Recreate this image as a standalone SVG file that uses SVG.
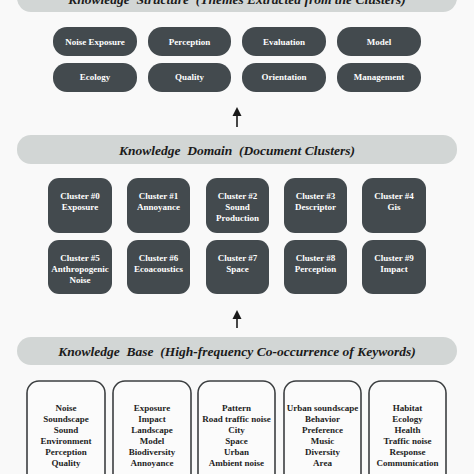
<svg xmlns="http://www.w3.org/2000/svg" width="474" height="474" viewBox="0 0 474 474">
<defs>
<style>
.banner{fill:#d2d6d5}
.btxt{font-family:"Liberation Serif",serif;font-weight:bold;font-style:italic;font-size:13.5px;fill:#1b1b1b;text-anchor:middle;white-space:pre}
.pill{fill:#434a4e}
.ptxt{font-family:"Liberation Serif",serif;font-weight:bold;font-size:9px;fill:#ffffff;text-anchor:middle}
.kbox{fill:#fbfbfb;stroke:#3c3f41;stroke-width:1.6}
.ktxt{font-family:"Liberation Serif",serif;font-weight:bold;font-size:9px;fill:#1e1e1e;text-anchor:middle}
.arr{stroke:#1a1a1a;stroke-width:1.6;fill:none}
.head{fill:#1a1a1a}
</style>
</defs>
<rect width="474" height="474" fill="#f9f9f9"/>

<g id="banner-structure">
<rect class="banner" x="17" y="-18" width="440" height="30" rx="14"/>
<text class="btxt" x="237" y="4" xml:space="preserve">Knowledge  Structure  (Themes Extracted from the Clusters)</text>
</g>

<g id="themes">
<g id="t-noise-exposure"><rect class="pill" x="53" y="27" width="84" height="29" rx="14"/><text class="ptxt" x="95" y="45">Noise Exposure</text></g>
<g id="t-perception"><rect class="pill" x="148" y="27" width="83" height="29" rx="14"/><text class="ptxt" x="189.5" y="45">Perception</text></g>
<g id="t-evaluation"><rect class="pill" x="242" y="27" width="84" height="29" rx="14"/><text class="ptxt" x="284" y="45">Evaluation</text></g>
<g id="t-model"><rect class="pill" x="337" y="27" width="84" height="29" rx="14"/><text class="ptxt" x="379" y="45">Model</text></g>
<g id="t-ecology"><rect class="pill" x="53" y="63" width="84" height="29" rx="14"/><text class="ptxt" x="95" y="80">Ecology</text></g>
<g id="t-quality"><rect class="pill" x="148" y="63" width="83" height="29" rx="14"/><text class="ptxt" x="189.5" y="80">Quality</text></g>
<g id="t-orientation"><rect class="pill" x="242" y="63" width="84" height="29" rx="14"/><text class="ptxt" x="284" y="80">Orientation</text></g>
<g id="t-management"><rect class="pill" x="337" y="63" width="84" height="29" rx="14"/><text class="ptxt" x="379" y="80">Management</text></g>
</g>

<g id="connectors">
<line class="arr" x1="237" y1="127" x2="237" y2="115"/>
<polygon class="head" points="237,107 241.5,116 232.5,116"/>
<line class="arr" x1="237" y1="328" x2="237" y2="318"/>
<polygon class="head" points="237,310 241.5,319 232.5,319"/>
</g>

<g id="banner-domain">
<rect class="banner" x="17" y="135" width="440" height="29" rx="14"/>
<text class="btxt" x="237" y="154.5" xml:space="preserve">Knowledge  Domain  (Document Clusters)</text>
</g>

<g id="clusters">
<g id="c0"><rect class="pill" x="48" y="178" width="64" height="55" rx="11"/><text class="ptxt" x="80" y="199">Cluster #0</text><text class="ptxt" x="80" y="210">Exposure</text></g>
<g id="c1"><rect class="pill" x="127" y="178" width="63" height="55" rx="11"/><text class="ptxt" x="158.5" y="199">Cluster #1</text><text class="ptxt" x="158.5" y="210">Annoyance</text></g>
<g id="c2"><rect class="pill" x="206" y="178" width="63" height="55" rx="11"/><text class="ptxt" x="237.5" y="199">Cluster #2</text><text class="ptxt" x="237.5" y="210">Sound</text><text class="ptxt" x="237.5" y="221">Production</text></g>
<g id="c3"><rect class="pill" x="284" y="178" width="63" height="55" rx="11"/><text class="ptxt" x="315.5" y="199">Cluster #3</text><text class="ptxt" x="315.5" y="210">Descriptor</text></g>
<g id="c4"><rect class="pill" x="362" y="178" width="64" height="55" rx="11"/><text class="ptxt" x="394" y="199">Cluster #4</text><text class="ptxt" x="394" y="210">Gis</text></g>
<g id="c5"><rect class="pill" x="48" y="240" width="64" height="54" rx="11"/><text class="ptxt" x="80" y="261">Cluster #5</text><text class="ptxt" x="80" y="272">Anthropogenic</text><text class="ptxt" x="80" y="283">Noise</text></g>
<g id="c6"><rect class="pill" x="127" y="240" width="63" height="54" rx="11"/><text class="ptxt" x="158.5" y="261">Cluster #6</text><text class="ptxt" x="158.5" y="272">Ecoacoustics</text></g>
<g id="c7"><rect class="pill" x="206" y="240" width="63" height="54" rx="11"/><text class="ptxt" x="237.5" y="261">Cluster #7</text><text class="ptxt" x="237.5" y="272">Space</text></g>
<g id="c8"><rect class="pill" x="284" y="240" width="63" height="54" rx="11"/><text class="ptxt" x="315.5" y="261">Cluster #8</text><text class="ptxt" x="315.5" y="272">Perception</text></g>
<g id="c9"><rect class="pill" x="362" y="240" width="64" height="54" rx="11"/><text class="ptxt" x="394" y="261">Cluster #9</text><text class="ptxt" x="394" y="272">Impact</text></g>
</g>

<g id="banner-base">
<rect class="banner" x="17" y="337" width="440" height="28" rx="14"/>
<text class="btxt" x="237" y="355.5" xml:space="preserve">Knowledge  Base  (High-frequency Co-occurrence of Keywords)</text>
</g>

<g id="keywords">
<g id="k1"><rect class="kbox" x="27" y="381" width="78" height="110" rx="12"/>
<text class="ktxt" x="66" y="411"><tspan x="66">Noise</tspan><tspan x="66" dy="10.9">Soundscape</tspan><tspan x="66" dy="10.9">Sound</tspan><tspan x="66" dy="10.9">Environment</tspan><tspan x="66" dy="10.9">Perception</tspan><tspan x="66" dy="10.9">Quality</tspan></text></g>
<g id="k2"><rect class="kbox" x="113" y="381" width="78" height="110" rx="12"/>
<text class="ktxt" x="152" y="411"><tspan x="152">Exposure</tspan><tspan x="152" dy="10.9">Impact</tspan><tspan x="152" dy="10.9">Landscape</tspan><tspan x="152" dy="10.9">Model</tspan><tspan x="152" dy="10.9">Biodiversity</tspan><tspan x="152" dy="10.9">Annoyance</tspan></text></g>
<g id="k3"><rect class="kbox" x="198" y="381" width="77" height="110" rx="12"/>
<text class="ktxt" x="236.5" y="411"><tspan x="236.5">Pattern</tspan><tspan x="236.5" dy="10.9">Road traffic noise</tspan><tspan x="236.5" dy="10.9">City</tspan><tspan x="236.5" dy="10.9">Space</tspan><tspan x="236.5" dy="10.9">Urban</tspan><tspan x="236.5" dy="10.9">Ambient noise</tspan></text></g>
<g id="k4"><rect class="kbox" x="284" y="381" width="77" height="110" rx="12"/>
<text class="ktxt" x="322.5" y="411"><tspan x="322.5">Urban soundscape</tspan><tspan x="322.5" dy="10.9">Behavior</tspan><tspan x="322.5" dy="10.9">Preference</tspan><tspan x="322.5" dy="10.9">Music</tspan><tspan x="322.5" dy="10.9">Diversity</tspan><tspan x="322.5" dy="10.9">Area</tspan></text></g>
<g id="k5"><rect class="kbox" x="369" y="381" width="77" height="110" rx="12"/>
<text class="ktxt" x="407.5" y="411"><tspan x="407.5">Habitat</tspan><tspan x="407.5" dy="10.9">Ecology</tspan><tspan x="407.5" dy="10.9">Health</tspan><tspan x="407.5" dy="10.9">Traffic noise</tspan><tspan x="407.5" dy="10.9">Response</tspan><tspan x="407.5" dy="10.9">Communication</tspan></text></g>
</g>
</svg>
